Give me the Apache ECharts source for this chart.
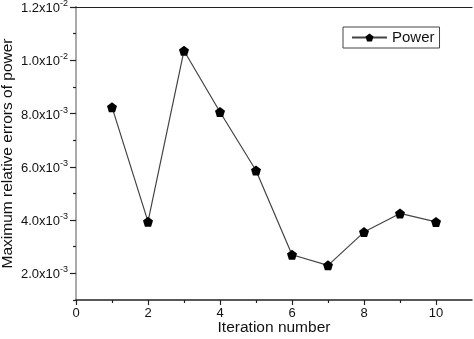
<!DOCTYPE html>
<html>
<head>
<meta charset="utf-8">
<script src="https://cdn.jsdelivr.net/npm/echarts@6/dist/echarts.min.js"></script>
<style>
  html, body { margin: 0; padding: 0; background: #fff; }
  #chart { width: 474px; height: 339px; }
</style>
</head>
<body>
<div id="chart"></div>
<script>
// Iteration index and maximum relative power error at each iteration
const iterations = [1, 2, 3, 4, 5, 6, 7, 8, 9, 10];
const powerError = [8.24e-3, 3.94e-3, 1.036e-2, 8.06e-3, 5.86e-3, 2.70e-3, 2.30e-3, 3.55e-3, 4.25e-3, 3.93e-3];

// Axis ticks
const xMajorTicks = [0, 2, 4, 6, 8, 10];
const xMinorTicks = [1, 3, 5, 7, 9];
const yMajorTicks = [0.002, 0.004, 0.006, 0.008, 0.010, 0.012];
const yMinorTicks = [0.001, 0.003, 0.005, 0.007, 0.009, 0.011];
const yTickLabels = ['2.0x10|-3', '4.0x10|-3', '6.0x10|-3', '8.0x10|-3', '1.0x10|-2', '1.2x10|-2'];

const FONT = '"Liberation Sans", Arial, sans-serif';
const AXIS = '#222';

const pentagon = 'path://M0,-1 L0.951,-0.309 L0.588,0.809 L-0.588,0.809 L-0.951,-0.309 Z';

function yLabel(v) {
  let best = 0, d = Infinity;
  yMajorTicks.forEach((t, i) => { const e = Math.abs(t - v); if (e < d) { d = e; best = i; } });
  const parts = yTickLabels[best].split('|');
  return '{b|' + parts[0] + '}{s|' + parts[1] + '}';
}

const chart = echarts.init(document.getElementById('chart'), null, { renderer: 'canvas' });
chart.setOption({
  animation: false,
  backgroundColor: '#fff',
  grid: { left: 76, right: 2, top: 7, bottom: 39, containLabel: false, outerBoundsMode: 'none' },
  legend: {
    left: 343, top: 27,
    padding: [3, 5, 3, 8],
    itemWidth: 35, itemHeight: 10, itemGap: 0,
    borderColor: '#444', borderWidth: 1,
    textStyle: { fontFamily: FONT, fontSize: 15, color: '#111' },
    data: ['Power']
  },
  xAxis: [
    {
      type: 'value', min: 0, max: 11, position: 'bottom',
      name: 'Iteration number', nameLocation: 'middle', nameGap: 20, nameMoveOverlap: false,
      nameTextStyle: { fontFamily: FONT, fontSize: 15.5, color: '#111' },
      axisLine: { show: true, lineStyle: { color: AXIS, width: 1.5 } },
      axisTick: { show: true, customValues: xMajorTicks, length: 5, lineStyle: { color: AXIS, width: 1.2 } },
      axisLabel: { customValues: xMajorTicks, fontFamily: FONT, fontSize: 13, color: '#111', margin: 7 },
      splitLine: { show: false }
    },
    {
      type: 'value', min: 0, max: 11, position: 'bottom', offset: 0,
      axisLine: { show: false },
      axisTick: { show: true, customValues: xMinorTicks, length: 3, lineStyle: { color: AXIS, width: 1.2 } },
      axisLabel: { show: false },
      splitLine: { show: false }
    },
    {
      type: 'value', min: 0, max: 11, position: 'top',
      axisLine: { show: true, lineStyle: { color: AXIS, width: 1.2 } },
      axisTick: { show: false }, axisLabel: { show: false }, splitLine: { show: false }
    }
  ],
  yAxis: [
    {
      type: 'value', min: 0.001, max: 0.012, position: 'left',
      name: 'Maximum relative errors of power', nameLocation: 'middle', nameGap: 60, nameMoveOverlap: false,
      nameTextStyle: { fontFamily: FONT, fontSize: 15.5, color: '#111' },
      axisLine: { show: true, lineStyle: { color: AXIS, width: 1.5 } },
      axisTick: { show: true, customValues: yMajorTicks, length: 6, lineStyle: { color: AXIS, width: 1.2 } },
      axisLabel: {
        customValues: yMajorTicks, margin: 8,
        formatter: yLabel,
        rich: {
          b: { fontFamily: FONT, fontSize: 13, color: '#111', lineHeight: 16, verticalAlign: 'bottom' },
          s: { fontFamily: FONT, fontSize: 9, color: '#111', lineHeight: 16, verticalAlign: 'top', padding: [0, 0, 6, 0] }
        }
      },
      splitLine: { show: false }
    },
    {
      type: 'value', min: 0.001, max: 0.012, position: 'left', offset: 0,
      axisLine: { show: false },
      axisTick: { show: true, customValues: yMinorTicks, length: 3, lineStyle: { color: AXIS, width: 1.2 } },
      axisLabel: { show: false },
      splitLine: { show: false }
    },
    {
      type: 'value', min: 0.001, max: 0.012, position: 'right',
      axisLine: { show: true, lineStyle: { color: '#aaa', width: 2 } },
      axisTick: { show: false }, axisLabel: { show: false }, splitLine: { show: false }
    }
  ],
  series: [
    {
      name: 'Power',
      type: 'line',
      xAxisIndex: 0, yAxisIndex: 0,
      data: iterations.map((it, i) => [it, powerError[i]]),
      symbol: pentagon,
      symbolSize: 10,
      lineStyle: { color: '#444', width: 1.2 },
      itemStyle: { color: '#000' },
      emphasis: { disabled: true }
    }
  ]
});
</script>
</body>
</html>
